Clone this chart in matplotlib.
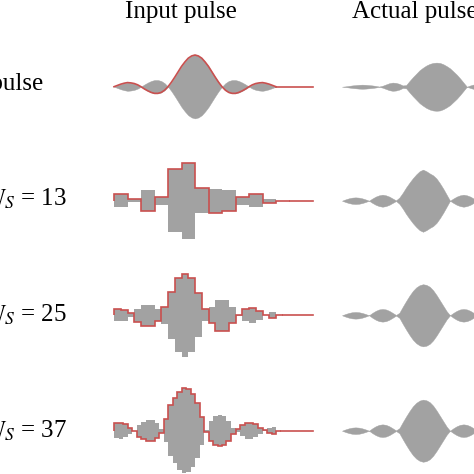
import numpy as np
import matplotlib
matplotlib.use("Agg")
import matplotlib.pyplot as plt

plt.rcParams['font.family'] = ['Liberation Serif', 'DejaVu Serif']
plt.rcParams['mathtext.fontset'] = 'stix'

# row labels and column titles
row_labels = ["Ideal pulse", r"$N_S$ = 13", r"$N_S$ = 25", r"$N_S$ = 37"]
col_titles = ["Input pulse", "Actual pulse"]

# ideal (sinc-like) envelope, read at t = -3 ... 3 step 0.125
ideal_t = np.linspace(-3, 3, 49)
ideal_env = [0.0, 0.04, 0.08, 0.11, 0.13, 0.12, 0.10, 0.06, 0.0,
             -0.07, -0.13, -0.18, -0.21, -0.21, -0.18, -0.11, 0.0,
             0.14, 0.30, 0.47, 0.64, 0.78, 0.90, 0.97, 1.0,
             0.97, 0.90, 0.78, 0.64, 0.47, 0.30, 0.14, 0.0,
             -0.11, -0.18, -0.21, -0.21, -0.18, -0.13, -0.07, 0.0,
             0.06, 0.10, 0.12, 0.13, 0.11, 0.08, 0.04, 0.0]

# stepped input pulses (one value per step)
steps_13 = [0.20, 0.05, -0.34, 0.13, 1.00, 1.20, 0.39, -0.38, -0.33, 0.13, 0.20, -0.06, 0.0]
steps_25 = [0.19, 0.17, 0.06, -0.21, -0.34, -0.34, -0.19, 0.27, 0.75, 1.17, 1.30, 1.17,
            0.70, 0.19, -0.25, -0.48, -0.48, -0.25, 0.02, 0.19, 0.24, 0.15, 0.0, -0.09, 0.0]
steps_37 = [0.23, 0.25, 0.21, 0.10, 0.0, -0.19, -0.27, -0.34, -0.34, -0.23, -0.06, 0.36,
            0.81, 1.02, 1.23, 1.34, 1.30, 1.16, 0.86, 0.44, -0.03, -0.32, -0.46, -0.48,
            -0.46, -0.32, -0.10, 0.05, 0.18, 0.25, 0.25, 0.21, 0.10, 0.02, -0.08, -0.11, 0.0]

# actual (output) envelopes, read at t = -3 ... 2 step 0.125
actual_t = np.linspace(-3, 2, 41)
actual_ideal = [0.0, 0.01, 0.025, 0.04, 0.05, 0.06, 0.065, 0.06, 0.05, 0.04, 0.025, 0.005,
                -0.03, -0.07, -0.11, -0.13, -0.12, -0.09, -0.04,
                0.05, 0.18, 0.30, 0.41, 0.52, 0.60, 0.67, 0.72, 0.75, 0.76, 0.75, 0.71,
                0.65, 0.58, 0.48, 0.38, 0.26, 0.13, 0.0, -0.04, -0.07, -0.09]
actual_13 = [0.0, 0.04, 0.074, 0.097, 0.105, 0.097, 0.074, 0.04, 0.0,
             -0.07, -0.13, -0.17, -0.19, -0.17, -0.13, -0.07, -0.01,
             0.10, 0.25, 0.42, 0.57, 0.71, 0.83, 0.93, 0.98, 0.93, 0.86, 0.80, 0.70,
             0.55, 0.38, 0.19, 0.0,
             -0.07, -0.13, -0.17, -0.19, -0.17, -0.13, -0.07, 0.0]
actual_25 = [0.0, 0.04, 0.074, 0.097, 0.105, 0.097, 0.074, 0.04, 0.0,
             -0.077, -0.141, -0.185, -0.20, -0.185, -0.141, -0.077, -0.01,
             0.08, 0.27, 0.45, 0.62, 0.77, 0.88, 0.95, 0.98, 0.96, 0.90, 0.79, 0.64,
             0.47, 0.30, 0.13, 0.0,
             -0.077, -0.141, -0.185, -0.20, -0.185, -0.141, -0.077, 0.0]
actual_37 = [0.0, 0.04, 0.074, 0.097, 0.105, 0.097, 0.074, 0.04, 0.0,
             -0.077, -0.141, -0.185, -0.20, -0.185, -0.141, -0.077, -0.01,
             0.08, 0.27, 0.45, 0.62, 0.77, 0.88, 0.95, 0.98, 0.96, 0.90, 0.79, 0.64,
             0.47, 0.30, 0.13, 0.0,
             -0.077, -0.141, -0.185, -0.20, -0.185, -0.141, -0.077, 0.0]

GRAY = '#a2a2a2'
RED = '#c9504f'
W = H = 474.0
row_y = [86.7, 200.7, 315.3, 430.7]   # pixel centre of each row
PX_T = 27.0     # pixels per time unit
PX_A = 31.7     # pixels per amplitude unit
T_END = 4.37


def make_ax(fig, left, width, yc, t0):
    ax = fig.add_axes([left / W, 1 - (yc + 50) / H, width / W, 100 / H])
    ax.set_xlim((left - t0) / PX_T, (left + width - t0) / PX_T)
    ax.set_ylim(-50 / PX_A, 50 / PX_A)
    ax.axis('off')
    return ax


def draw_smooth(ax, t, env, red=True):
    env = np.asarray(env)
    ax.fill_between(t, -np.abs(env), np.abs(env), color=GRAY, lw=0.3)
    if red:
        ax.plot(t, env, color=RED, lw=1.2)
        ax.plot([t[-1], T_END], [0, 0], color=RED, lw=1.2)


def draw_steps(ax, vals):
    vals = np.asarray(vals)
    n = len(vals)
    edges = np.linspace(-3, 3, n)
    width = edges[1] - edges[0]
    edges = np.append(edges, edges[-1] + width)
    ax.stairs(np.abs(vals), edges, baseline=-np.abs(vals), fill=True, color=GRAY)
    ax.stairs(vals, edges, baseline=0, color=RED, lw=1.2)
    ax.plot([edges[-1], T_END], [0, 0], color=RED, lw=1.2)


fig = plt.figure(figsize=(4.74, 4.74), dpi=100)

inputs = [ideal_env, steps_13, steps_25, steps_37]
actuals = [actual_ideal, actual_13, actual_25, actual_37]

for i in range(4):
    ax_in = make_ax(fig, 100, 230, row_y[i], 195)
    if i == 0:
        draw_smooth(ax_in, ideal_t, inputs[i])
    else:
        draw_steps(ax_in, inputs[i])
    ax_out = make_ax(fig, 330, 144, row_y[i], 423)
    draw_smooth(ax_out, actual_t, actuals[i], red=False)

fig.text(181 / W, 1 - 12 / H, col_titles[0], ha='center', va='center', fontsize=18)
fig.text(352 / W, 1 - 12 / H, col_titles[1], ha='left', va='center', fontsize=18)

label_x = [43, 67, 67, 67]
label_base = [90, 206, 322, 438]
for i in range(4):
    fig.text(label_x[i] / W, 1 - label_base[i] / H, row_labels[i],
             ha='right', va='baseline', fontsize=18)

fig.savefig('out.png', dpi=100)
